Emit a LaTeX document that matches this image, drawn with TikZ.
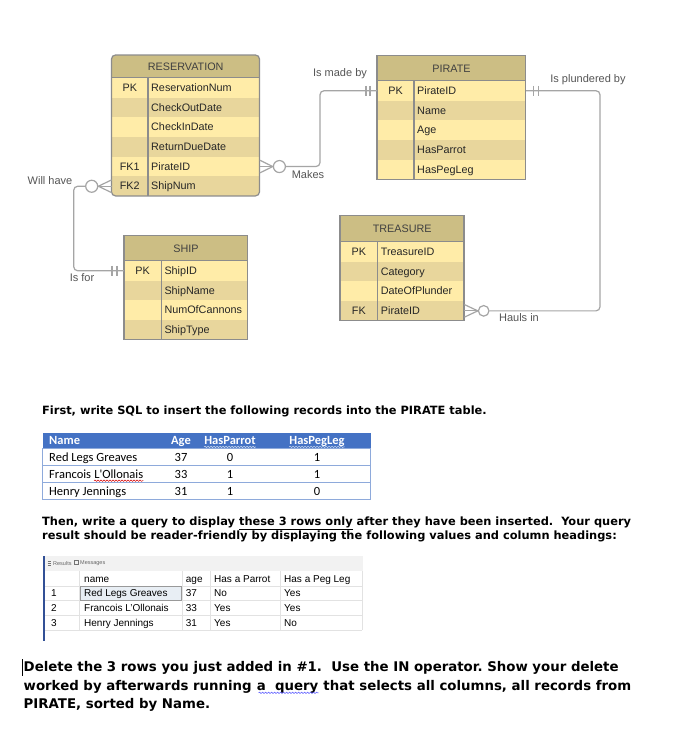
\documentclass[tikz,border=0pt]{standalone}
\usepackage{fontspec}
\setmainfont{Liberation Sans}
\newfontfamily\verd{DejaVu Sans}
\newfontfamily\calib{Carlito}
\usetikzlibrary{calc,decorations.pathmorphing}
\frenchspacing
\definecolor{hdrC}{RGB}{204,190,132}
\definecolor{rowA}{RGB}{255,236,168}
\definecolor{rowB}{RGB}{232,214,156}
\definecolor{bordC}{RGB}{140,140,140}
\definecolor{connC}{RGB}{165,165,165}
\definecolor{lblC}{RGB}{85,85,85}
\definecolor{wordBlue}{RGB}{68,114,196}
\definecolor{wordLine}{RGB}{142,170,219}
\definecolor{gridC}{RGB}{226,226,226}
\definecolor{barC}{RGB}{50,80,150}
\tikzset{
 hdrbox/.style={fill=hdrC, inner sep=0, font=\fontsize{10.8}{12}\selectfont, text=black!75},
 rowbox/.style={inner sep=0, minimum height=19.7pt},
 keytxt/.style={font=\fontsize{10.8}{12}\selectfont, text=black!85, inner sep=0, anchor=base},
 fldtxt/.style={font=\fontsize{10.8}{12}\selectfont, text=black!85, inner sep=0, anchor=base west},
 tabborder/.style={draw=bordC, line width=1.2pt},
 conn/.style={draw=connC, line width=1.2pt},
 ring/.style={circle, draw=connC, line width=1.2pt, fill=white, inner sep=0},
 lbl/.style={font=\fontsize{11}{12}\selectfont, text=lblC, inner sep=0},
 tabcorners/.style={sharp corners},
 qtext/.style={font=\verd\bfseries\fontsize{11.4}{13}\selectfont, inner sep=0, anchor=base west},
 btext/.style={font=\verd\bfseries\fontsize{13.33}{16}\selectfont, inner sep=0, anchor=base west},
 wtxt/.style={font=\calib\fontsize{12.5}{14}\selectfont, inner sep=0},
 whdr/.style={font=\calib\bfseries\fontsize{12.5}{14}\selectfont, text=white, inner sep=0},
 gtxt/.style={font=\fontsize{10}{12}\selectfont, inner sep=0, anchor=base west},
 squig/.style={decorate, decoration={snake, amplitude=0.7pt, segment length=3pt}, line width=0.6pt},
}
\newcommand{\ertable}[8]{%
  \foreach [count=\n] \k/\f in {#8} {\xdef\nrows{\n}}%
  \pgfmathsetmacro\tabbot{#3+#6+\nrows*19.7}%
  \begin{scope}
    \clip[tabcorners] (#2,#3) rectangle (#2+#4,\tabbot);
    \node[hdrbox, minimum width=#4, minimum height=#6, anchor=north west] (#1) at (#2,#3) {#7};
    \foreach [count=\i] \k/\f in {#8} {%
      \pgfmathsetmacro\yy{#3+#6+(\i-1)*19.7}%
      \ifodd\i\relax\def\rc{rowA}\else\def\rc{rowB}\fi
      \node[rowbox, fill=\rc, minimum width=#4, anchor=north west] (#1-\i) at (#2,\yy) {};
      \node[keytxt] (#1-k\i) at (#2+#5/2,\yy+13.75) {\k};
      \node[fldtxt] (#1-f\i) at (#2+#5+3,\yy+13.75) {\f};
    }
  \end{scope}
  \draw[tabborder, tabcorners] (#2,#3) rectangle (#2+#4,\tabbot);
  \draw[tabborder] (#2,#3+#6) -- (#2+#4,#3+#6);
  \draw[tabborder] (#2+#5,#3+#6) -- (#2+#5,\tabbot);
}
\begin{document}
\begin{tikzpicture}[x=1pt,y=-1pt]
\fill[white] (0,0) rectangle (695,748);
\useasboundingbox (0,0) rectangle (695,748);

% ---------- ER tables ----------
\tikzset{tabcorners/.style={rounded corners=4pt}}
\ertable{res}{111.5}{55}{148}{36.5}{22.7}{RESERVATION}{PK/ReservationNum, /CheckOutDate, /CheckInDate, /ReturnDueDate, FK1/PirateID, FK2/ShipNum}
\tikzset{tabcorners/.style={sharp corners}}
\ertable{pir}{377}{55.7}{148.7}{37}{25}{PIRATE}{PK/PirateID, /Name, /Age, /HasParrot, /HasPegLeg}
\ertable{ship}{124}{235.7}{123.7}{37.3}{25}{SHIP}{PK/ShipID, /ShipName, /NumOfCannons, /ShipType}
\ertable{tre}{340}{215.7}{124}{37.7}{26}{TREASURE}{PK/TreasureID, /Category, /DateOfPlunder, FK/PirateID}

% ---------- Makes / Is made by ----------
\node[ring, minimum size=12pt] (cM) at ($(res-5.east)+(19.5,0)$) {};
\draw[conn] (res-5.east) -- (cM.west);
\draw[conn] ($(res-5.east)+(0,-6.3)$) -- (cM.west);
\draw[conn] ($(res-5.east)+(0,6.3)$) -- (cM.west);
\coordinate (jM) at ($(cM.east)+(34,0)$);
\draw[conn, rounded corners=4pt] (cM.east) -- (jM) |- (pir-1.west);
\draw[conn] ($(pir-1.west)+(-11,-5)$) -- ++(0,10);
\draw[conn] ($(pir-1.west)+(-7,-5)$) -- ++(0,10);

% ---------- Will have / Is for ----------
\node[ring, minimum size=12pt] (cW) at ($(res-6.west)+(-19.8,0)$) {};
\draw[conn] (res-6.west) -- (cW.east);
\draw[conn] ($(res-6.west)+(0,-6.3)$) -- (cW.east);
\draw[conn] ($(res-6.west)+(0,6.3)$) -- (cW.east);
\coordinate (jW) at ($(cW.west)+(-11.4,0)$);
\draw[conn, rounded corners=4pt] (cW.west) -- (jW) |- (ship-1.west);
\draw[conn] ($(ship-1.west)+(-12,-5)$) -- ++(0,10);
\draw[conn] ($(ship-1.west)+(-7,-5)$) -- ++(0,10);

% ---------- Hauls in / Is plundered by ----------
\node[ring, minimum size=10.6pt] (cH) at ($(tre-4.east)+(19.3,0)$) {};
\draw[conn] (tre-4.east) -- (cH.west);
\draw[conn] ($(tre-4.east)+(0,-6.3)$) -- (cH.west);
\draw[conn] ($(tre-4.east)+(0,6.3)$) -- (cH.west);
\coordinate (jH) at (600,0 |- cH);
\draw[conn, rounded corners=4pt] (cH.east) -- (jH) |- (pir-1.east);
\draw[conn] ($(pir-1.east)+(7,-5)$) -- ++(0,10);
\draw[conn] ($(pir-1.east)+(12,-5)$) -- ++(0,10);

% ---------- labels ----------
\node[lbl] (lMadeBy) at (340,74) {Is made by};
\node[lbl] (lMakes) at (308,175) {Makes};
\node[lbl] (lWill) at (50,181) {Will have};
\node[lbl] (lFor) at (82,278) {Is for};
\node[lbl] (lPlund) at (588,80) {Is plundered by};
\node[lbl] (lHauls) at (519,318) {Hauls in};

% ---------- first instruction + Word table ----------
\node[qtext] (q1) at (42,414.3) {First, write SQL to insert the following records into the PIRATE table.};

\node[fill=wordBlue, minimum width=328.4, minimum height=16, anchor=north west, inner sep=0] (t1h) at (42.3,432.3) {};
\draw[wordLine, line width=0.8pt] (42.3,448.3) rectangle (370.7,499.7);
\draw[wordLine, line width=0.8pt] (42.3,465.7) -- (370.7,465.7);
\draw[wordLine, line width=0.8pt] (42.3,482.7) -- (370.7,482.7);
\node[whdr, anchor=base west] (t1-h1) at (49,444.3) {Name};
\node[whdr, anchor=base] (t1-h2) at (181,444.3) {Age};
\node[whdr, anchor=base] (t1-h3) at (230,444.3) {HasParrot};
\node[whdr, anchor=base] (t1-h4) at (317,444.3) {HasPegLeg};
\draw[squig, white!65!wordBlue] ($(t1-h3.base west)+(0,2.6)$) -- ($(t1-h3.base east)+(0,2.6)$);
\draw[squig, white!65!wordBlue] ($(t1-h4.base west)+(0,2.6)$) -- ($(t1-h4.base east)+(0,2.6)$);

\node[wtxt, anchor=base west] (t1-a1) at (49,461.3) {Red Legs Greaves};
\node[wtxt, anchor=base] (t1-a2) at (181,461.3) {37};
\node[wtxt, anchor=base] (t1-a3) at (230,461.3) {0};
\node[wtxt, anchor=base] (t1-a4) at (317,461.3) {1};
\node[wtxt, anchor=base west] (t1-b1) at (49,478.3) {Francois};
\node[wtxt, anchor=base west] (t1-b1b) at ($(t1-b1.base east)+(2.8,0)$) {L'Ollonais};
\draw[squig, red!85!black, line width=0.5pt] ($(t1-b1b.base west)+(0,2.4)$) -- ($(t1-b1b.base east)+(0,2.4)$);
\node[wtxt, anchor=base] (t1-b2) at (181,478.3) {33};
\node[wtxt, anchor=base] (t1-b3) at (230,478.3) {1};
\node[wtxt, anchor=base] (t1-b4) at (317,478.3) {1};
\node[wtxt, anchor=base west] (t1-c1) at (49,495.3) {Henry Jennings};
\node[wtxt, anchor=base] (t1-c2) at (181,495.3) {31};
\node[wtxt, anchor=base] (t1-c3) at (230,495.3) {1};
\node[wtxt, anchor=base] (t1-c4) at (317,495.3) {0};

% ---------- second instruction ----------
\node[qtext] (q2a) at (42,525.5) {Then, write a query to display \underline{these 3 rows only} after they have been inserted.\ \ Your query};
\node[qtext] (q2b) at (42,539.8) {result should be reader-friendly by displaying the following values and column headings:};

% ---------- results grid ----------
\fill[black!5] (45,556) rectangle (363,570.5);
\draw[barC, line width=2pt] (44,556) -- (44,641);
\node[font=\fontsize{5.5}{6}\selectfont, text=black!60, inner sep=0, anchor=west] (gRes) at (53,563.5) {Results};
\node[font=\fontsize{5.5}{6}\selectfont, text=black!60, inner sep=0, anchor=west] (gMsg) at (80,563.5) {Messages};
\draw[black!55, line width=0.4pt] (47.5,561.5) -- ++(3.5,0) (47.5,563.5) -- ++(3.5,0) (47.5,565.5) -- ++(3.5,0);
\draw[black!55, line width=0.4pt] (74,560.5) rectangle ++(4,4);
\foreach \yy in {586,600.5,615.5,630} \draw[gridC, line width=0.6pt] (45,\yy) -- (362,\yy);
\foreach \xx in {79,182,210,280,362} \draw[gridC, line width=0.6pt] (\xx,571) -- (\xx,630);
\draw[black!40, fill={rgb,255:red,232;green,238;blue,244}, line width=0.6pt] (80.5,586.7) rectangle (181.5,600);
\node[gtxt] (g-h1) at (84,582.5) {name};
\node[gtxt] (g-h2) at (185.7,582.5) {age};
\node[gtxt] (g-h3) at (214,582.5) {Has a Parrot};
\node[gtxt] (g-h4) at (284,582.5) {Has a Peg Leg};
\foreach [count=\r] \yy/\nm/\ag/\pa/\pe in {596.8/Red Legs Greaves/37/No/Yes, 611.8/Francois L'Ollonais/33/Yes/Yes, 626.8/Henry Jennings/31/Yes/No} {
  \node[gtxt] (g-\r-0) at (51,\yy) {\r};
  \node[gtxt] (g-\r-1) at (84,\yy) {\nm};
  \node[gtxt] (g-\r-2) at (185.7,\yy) {\ag};
  \node[gtxt] (g-\r-3) at (214,\yy) {\pa};
  \node[gtxt] (g-\r-4) at (284,\yy) {\pe};
}

% ---------- last instruction ----------
\draw[black, line width=0.8pt] (22.3,659) -- (22.3,676);
\node[btext] (b1) at (23.5,671.5) {Delete the 3 rows you just added in \#1.\ \ Use the IN operator. Show your delete};
\node[btext] (b2a) at (23.5,690) {worked by afterwards running};
\node[btext] (b2b) at ($(b2a.base east)+(4.64,0)$) {a\ \ query};
\node[btext] (b2c) at ($(b2b.base east)+(4.64,0)$) {that selects all columns, all records from};
\draw[squig, blue!70!white, line width=0.5pt] ($(b2b.base west)+(2,2.8)$) -- ($(b2b.base east)+(0,2.8)$);
\node[btext] (b3) at (23.5,708.3) {PIRATE, sorted by Name.};
\end{tikzpicture}
\end{document}
